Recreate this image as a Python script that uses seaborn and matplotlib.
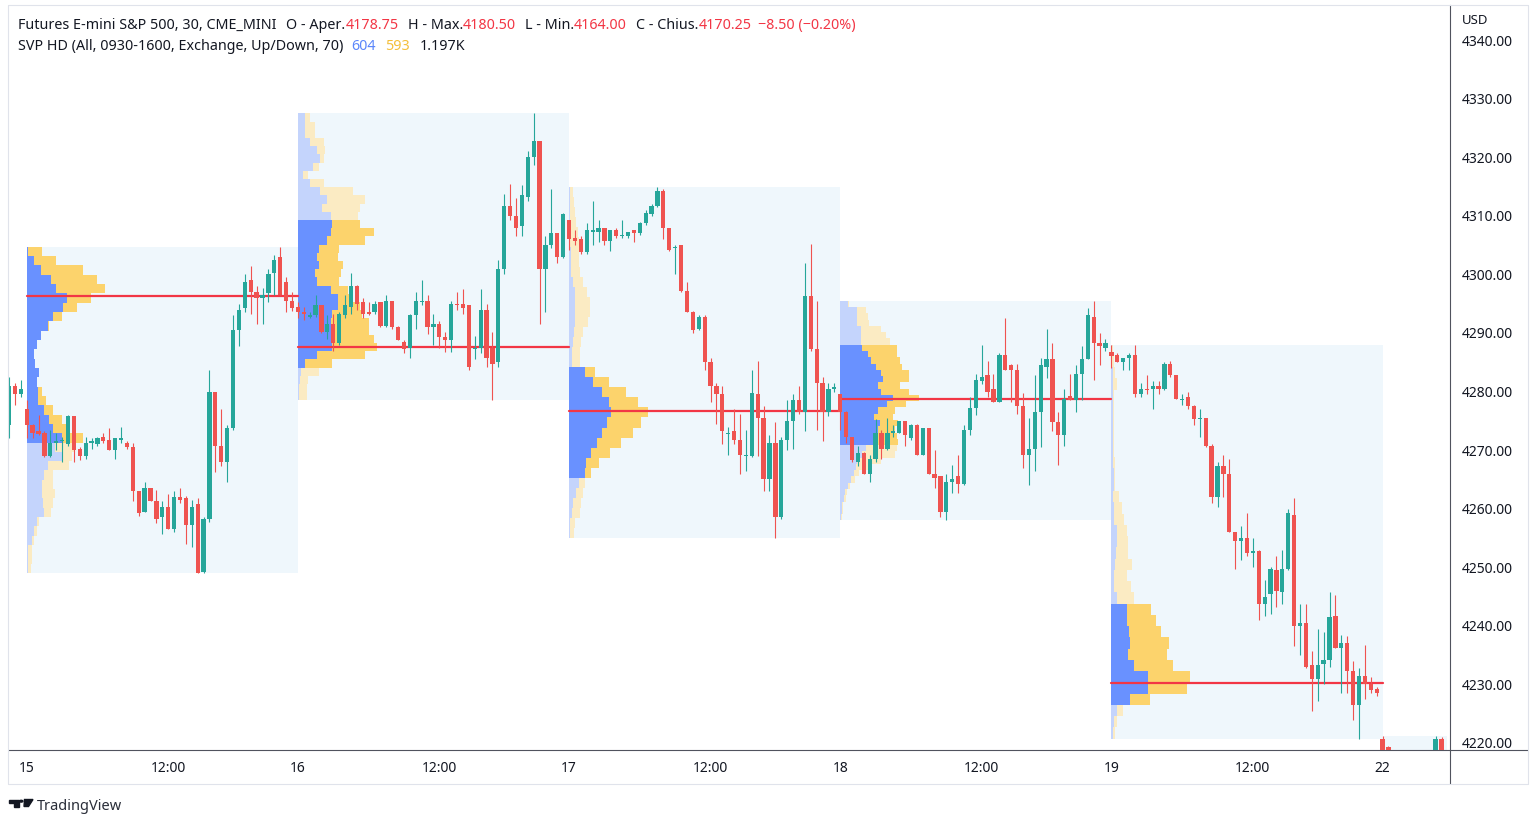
import matplotlib.pyplot as plt
import numpy as np
import pandas as pd
import seaborn as sns
from matplotlib.lines import Line2D
from matplotlib.patches import Rectangle, Polygon, Circle

# 30 minute bars as (open, high, low, close), one list per trading day
bars_pre = [(4274.25, 4282.5, 4272.0, 4281.0), (4281.0, 4281.5, 4277.75, 4279.5),
            (4279.5, 4282.0, 4279.0, 4280.5)]

bars_15 = [
    (4277.0, 4278.5, 4272.0, 4274.25), (4274.25, 4274.5, 4272.0, 4273.0), (4273.25, 4276.0, 4272.5, 4272.75), (4273.0, 4273.25, 4268.75, 4269.0),
    (4269.0, 4273.5, 4268.75, 4271.25), (4271.25, 4273.0, 4270.0, 4271.5), (4271.5, 4272.25, 4268.0, 4271.75), (4271.0, 4276.0, 4270.75, 4275.75),
    (4275.75, 4275.75, 4268.0, 4270.0), (4270.25, 4270.5, 4268.25, 4269.0), (4269.0, 4272.25, 4268.5, 4271.25), (4271.25, 4272.0, 4270.25, 4271.5),
    (4271.0, 4272.25, 4270.75, 4272.0), (4272.25, 4273.0, 4271.25, 4271.5), (4271.75, 4273.75, 4270.0, 4270.0), (4270.0, 4272.0, 4268.5, 4272.0),
    (4271.75, 4274.0, 4271.25, 4272.0), (4271.25, 4271.5, 4270.25, 4270.5), (4270.5, 4271.25, 4261.25, 4263.0), (4263.0, 4263.0, 4258.75, 4259.25),
    (4259.5, 4264.5, 4259.5, 4263.5), (4263.5, 4263.5, 4261.25, 4261.25), (4261.25, 4263.25, 4257.5, 4258.25), (4258.5, 4261.25, 4255.75, 4260.25),
    (4260.25, 4262.5, 4256.5, 4256.5), (4256.5, 4263.0, 4256.0, 4262.0), (4262.0, 4263.5, 4261.0, 4261.5), (4261.75, 4262.25, 4254.0, 4257.25),
    (4257.25, 4261.5, 4253.5, 4260.25), (4260.75, 4261.75, 4249.0, 4249.0), (4249.25, 4258.5, 4249.0, 4258.25), (4258.25, 4283.75, 4257.75, 4280.0),
    (4280.0, 4280.0, 4266.25, 4270.75), (4270.75, 4277.0, 4267.25, 4268.0), (4268.0, 4274.25, 4264.5, 4273.75), (4273.75, 4293.0, 4273.5, 4290.5),
    (4290.5, 4295.0, 4287.75, 4294.0), (4294.25, 4300.0, 4293.5, 4298.75), (4299.0, 4301.5, 4293.25, 4297.0), (4297.0, 4298.0, 4291.5, 4296.0),
    (4296.0, 4297.75, 4291.5, 4296.5), (4296.75, 4301.0, 4295.25, 4300.0), (4300.25, 4303.25, 4296.5, 4302.5), (4303.0, 4304.75, 4296.5, 4296.5),
    (4298.75, 4299.5, 4293.5, 4295.5), (4295.5, 4297.0, 4293.75, 4294.25),
]

bars_16 = [
    (4294.5, 4295.25, 4292.5, 4293.5), (4293.5, 4294.5, 4292.25, 4293.25), (4292.75, 4293.5, 4292.5, 4293.0), (4293.0, 4296.5, 4292.75, 4294.75),
    (4294.75, 4294.75, 4290.0, 4290.25), (4290.25, 4293.0, 4289.0, 4291.5), (4291.5, 4293.25, 4287.0, 4288.25), (4288.25, 4293.5, 4288.0, 4293.25),
    (4293.0, 4296.5, 4292.5, 4294.75), (4294.5, 4300.25, 4293.25, 4298.0), (4298.0, 4298.25, 4294.0, 4295.0), (4295.25, 4296.0, 4292.5, 4293.25),
    (4293.5, 4295.25, 4293.0, 4293.25), (4293.5, 4295.5, 4293.25, 4295.0), (4295.25, 4295.25, 4291.0, 4291.25), (4291.25, 4296.5, 4291.0, 4295.5),
    (4295.5, 4295.5, 4290.75, 4291.0), (4291.0, 4291.25, 4288.75, 4288.75), (4288.5, 4288.75, 4286.5, 4287.25), (4287.5, 4293.25, 4285.75, 4293.0),
    (4293.0, 4297.0, 4290.75, 4295.5), (4295.25, 4299.0, 4294.75, 4295.5), (4295.5, 4296.5, 4289.75, 4291.0), (4291.0, 4293.25, 4288.0, 4291.5),
    (4291.5, 4292.0, 4287.5, 4289.25), (4289.25, 4290.25, 4286.75, 4288.75), (4288.75, 4295.5, 4286.75, 4295.0), (4295.0, 4297.0, 4294.0, 4294.75),
    (4295.0, 4297.5, 4293.25, 4294.25), (4294.75, 4294.75, 4283.75, 4284.25), (4287.25, 4289.5, 4285.5, 4287.5), (4287.5, 4297.5, 4286.5, 4294.0),
    (4294.0, 4295.0, 4284.25, 4285.75), (4287.5, 4290.25, 4278.5, 4284.75), (4285.0, 4302.5, 4284.25, 4301.0), (4301.0, 4313.75, 4300.0, 4311.75),
    (4311.75, 4315.5, 4309.25, 4310.0), (4310.0, 4313.0, 4306.5, 4308.0), (4308.25, 4315.25, 4306.5, 4313.5), (4313.25, 4321.0, 4312.5, 4320.0),
    (4320.0, 4327.5, 4318.75, 4322.75), (4322.75, 4322.75, 4291.5, 4301.0), (4301.0, 4306.5, 4293.5, 4305.0), (4305.0, 4314.5, 4304.5, 4307.0),
    (4307.0, 4307.0, 4302.0, 4303.0), (4303.0, 4310.5, 4302.75, 4310.25),
]

bars_17 = [
    (4309.25, 4309.25, 4304.25, 4306.0), (4306.25, 4307.5, 4305.0, 4305.75), (4306.0, 4306.5, 4303.5, 4303.75), (4303.75, 4308.75, 4303.5, 4307.5),
    (4307.25, 4312.5, 4305.0, 4307.5), (4307.25, 4309.25, 4305.5, 4308.0), (4308.0, 4308.0, 4305.0, 4305.75), (4305.75, 4307.5, 4304.0, 4307.5),
    (4307.5, 4308.0, 4306.25, 4306.5), (4306.5, 4309.25, 4306.25, 4306.75), (4306.5, 4307.25, 4306.25, 4307.25), (4307.5, 4307.5, 4305.5, 4307.0),
    (4307.0, 4309.0, 4306.75, 4308.75), (4308.75, 4311.0, 4308.5, 4310.5), (4310.25, 4312.0, 4310.0, 4311.75), (4311.75, 4315.0, 4311.5, 4314.25),
    (4314.25, 4314.5, 4306.0, 4308.0), (4308.0, 4308.0, 4304.0, 4304.25), (4304.5, 4305.0, 4300.0, 4304.75), (4305.0, 4305.0, 4297.0, 4297.25),
    (4297.25, 4298.75, 4293.5, 4293.5), (4293.5, 4293.75, 4290.0, 4290.5), (4290.75, 4293.0, 4290.5, 4292.75), (4292.75, 4293.0, 4283.75, 4285.0),
    (4285.0, 4285.75, 4278.25, 4281.0), (4281.0, 4281.5, 4274.5, 4279.5), (4279.5, 4281.0, 4271.0, 4273.25), (4272.75, 4274.0, 4269.25, 4273.0),
    (4273.25, 4277.0, 4271.0, 4271.75), (4271.75, 4276.25, 4266.0, 4269.25), (4269.0, 4273.5, 4266.5, 4269.25), (4269.0, 4283.75, 4268.75, 4279.75),
    (4279.5, 4285.25, 4269.0, 4275.5), (4275.5, 4277.5, 4263.0, 4265.0), (4265.0, 4272.5, 4263.0, 4271.25), (4271.25, 4274.75, 4255.0, 4258.5),
    (4258.5, 4272.25, 4258.25, 4271.75), (4271.75, 4278.5, 4270.0, 4275.0), (4275.0, 4279.5, 4270.25, 4278.5), (4278.5, 4281.0, 4276.25, 4276.5),
    (4276.5, 4302.0, 4273.25, 4296.25), (4296.25, 4305.25, 4287.0, 4287.25), (4287.25, 4295.5, 4273.5, 4281.5), (4281.5, 4282.5, 4271.5, 4276.5),
    (4276.5, 4281.5, 4275.75, 4280.5), (4280.5, 4281.5, 4280.0, 4280.75),
]

bars_18 = [
    (4279.5, 4279.5, 4273.5, 4276.5), (4276.5, 4276.75, 4271.25, 4272.25), (4272.25, 4272.25, 4268.0, 4268.25), (4268.0, 4270.75, 4267.25, 4269.5),
    (4269.5, 4269.75, 4266.0, 4266.0), (4266.0, 4269.25, 4264.5, 4268.5), (4268.5, 4275.25, 4268.0, 4273.0), (4273.0, 4273.5, 4268.5, 4270.25),
    (4270.25, 4275.5, 4270.0, 4273.0), (4273.0, 4274.25, 4272.25, 4273.25), (4273.0, 4275.0, 4273.0, 4275.0), (4275.0, 4275.0, 4270.75, 4272.5),
    (4272.0, 4274.5, 4271.75, 4274.25), (4274.25, 4274.5, 4269.25, 4269.25), (4269.25, 4273.75, 4269.25, 4273.75), (4273.75, 4273.75, 4266.0, 4266.0),
    (4266.0, 4270.0, 4263.5, 4265.25), (4265.5, 4265.5, 4258.5, 4259.5), (4259.5, 4266.0, 4258.0, 4264.5), (4264.5, 4267.5, 4262.75, 4265.0),
    (4265.5, 4269.25, 4262.75, 4264.25), (4264.25, 4274.25, 4264.0, 4273.5), (4273.5, 4279.0, 4272.5, 4277.25), (4277.25, 4283.0, 4276.0, 4282.0),
    (4281.75, 4288.0, 4281.25, 4282.5), (4282.75, 4285.25, 4279.0, 4280.0), (4280.5, 4283.0, 4278.25, 4278.25), (4278.25, 4286.5, 4278.25, 4286.25),
    (4286.25, 4292.5, 4283.75, 4283.75), (4284.5, 4284.75, 4278.25, 4283.75), (4283.75, 4284.75, 4276.25, 4277.5), (4277.5, 4279.75, 4267.0, 4269.25),
    (4269.25, 4275.5, 4264.0, 4270.25), (4270.25, 4282.75, 4266.5, 4276.5), (4276.5, 4285.75, 4270.5, 4284.5), (4284.25, 4290.75, 4282.25, 4285.5),
    (4285.5, 4288.25, 4273.25, 4274.75), (4274.75, 4276.5, 4267.5, 4272.5), (4272.5, 4280.5, 4270.75, 4278.75), (4279.25, 4283.0, 4278.5, 4278.5),
    (4278.5, 4284.5, 4276.5, 4283.0), (4283.0, 4287.75, 4278.5, 4285.5), (4285.5, 4294.25, 4285.5, 4293.0), (4292.75, 4295.5, 4282.0, 4288.25),
    (4288.25, 4290.0, 4284.5, 4287.75), (4287.5, 4289.0, 4287.0, 4288.25),
]

bars_19 = [
    (4286.75, 4288.0, 4284.0, 4286.0), (4286.25, 4286.5, 4285.0, 4285.0), (4285.0, 4285.75, 4283.75, 4285.75), (4285.75, 4286.5, 4283.75, 4286.25),
    (4286.25, 4288.0, 4279.0, 4279.5), (4279.5, 4281.5, 4279.0, 4280.5), (4280.5, 4282.75, 4279.5, 4280.25), (4280.5, 4281.75, 4277.0, 4281.0),
    (4281.0, 4281.75, 4279.5, 4280.5), (4280.5, 4285.0, 4280.25, 4284.75), (4284.75, 4285.25, 4282.5, 4282.75), (4282.75, 4282.75, 4278.75, 4278.75),
    (4278.5, 4279.5, 4277.75, 4278.75), (4279.0, 4280.0, 4277.0, 4277.5), (4277.5, 4277.75, 4274.25, 4275.25), (4275.25, 4277.0, 4272.25, 4275.5),
    (4275.5, 4275.5, 4270.5, 4270.75), (4270.75, 4271.0, 4261.0, 4262.0), (4262.0, 4268.0, 4260.25, 4267.25), (4267.25, 4269.25, 4262.0, 4266.0),
    (4266.0, 4268.5, 4256.0, 4256.0), (4256.0, 4256.0, 4249.75, 4254.5), (4254.5, 4257.0, 4251.25, 4255.0), (4255.0, 4259.25, 4252.0, 4252.5),
    (4252.5, 4255.0, 4250.0, 4252.75), (4252.75, 4253.0, 4241.0, 4243.75), (4243.75, 4247.75, 4241.75, 4245.0), (4245.5, 4250.0, 4242.0, 4249.75),
    (4249.5, 4252.0, 4243.25, 4246.0), (4245.75, 4253.0, 4243.75, 4249.75), (4249.75, 4260.0, 4249.5, 4259.25), (4259.0, 4261.75, 4236.5, 4240.0),
    (4240.0, 4243.75, 4235.0, 4240.5), (4240.5, 4243.75, 4232.75, 4233.0), (4233.25, 4235.75, 4225.5, 4231.0), (4231.0, 4239.5, 4227.25, 4233.25),
    (4233.5, 4239.0, 4230.0, 4234.25), (4234.25, 4245.75, 4233.0, 4241.5), (4241.75, 4245.25, 4236.25, 4236.25), (4236.25, 4238.5, 4228.5, 4237.0),
    (4237.0, 4238.25, 4228.5, 4232.25), (4232.25, 4234.0, 4224.0, 4226.5), (4226.5, 4232.75, 4220.75, 4231.5), (4231.5, 4236.75, 4227.5, 4230.0),
    (4230.0, 4231.25, 4228.5, 4229.0), (4229.25, 4229.5, 4228.0, 4228.5),
]

bars_22 = [
    (4220.75, 4221.25, 4214.5, 4217.0), (4219.25, 4219.5, 4214.5, 4215.5), (4215.5, 4217.0, 4212.75, 4213.5), (4213.5, 4215.75, 4211.5, 4215.0),
    (4215.0, 4216.5, 4212.5, 4213.0), (4213.0, 4215.0, 4210.75, 4214.25), (4214.25, 4217.25, 4213.0, 4216.5), (4216.5, 4218.25, 4214.75, 4215.25),
    (4215.25, 4218.5, 4214.0, 4217.75), (4217.0, 4221.25, 4216.5, 4220.75), (4220.75, 4221.0, 4218.0, 4218.25),
]

day_names = ['15', '16', '17', '18', '19', '22']

# session volume profiles (up / down volume per row, top row first)
up_15 = [5, 20, 40, 70, 85, 115, 105, 75, 60, 42, 30, 20, 25, 35, 30, 32, 32, 50, 65, 75,
         100, 80, 100, 60, 50, 45, 45, 48, 50, 30, 20, 15, 5, 3, 3]
dn_15 = [40, 65, 120, 130, 140, 70, 40, 25, 5, 0, 0, 0, 0, 0, 0, 13, 23, 25, 35, 40,
         60, 55, 30, 60, 25, 30, 35, 27, 20, 5, 8, 5, 10, 12, 10]
up_16 = [20, 20, 20, 35, 55, 65, 45, 15, 35, 65, 85, 70, 95, 100, 95, 85, 60, 55, 62, 50,
         55, 95, 115, 115, 100, 95, 97, 100, 100, 55, 20, 10, 5, 3, 3]
dn_16 = [15, 30, 30, 40, 25, 10, 15, 15, 40, 95, 110, 110, 80, 80, 125, 110, 60, 60, 70, 75,
         65, 50, 45, 65, 85, 110, 110, 120, 128, 140, 80, 50, 25, 22, 22]
up_17 = [2, 2, 2, 3, 3, 3, 5, 5, 5, 10, 16, 16, 16, 16, 15, 12, 8, 8, 45, 70,
         95, 115, 123, 110, 95, 80, 65, 50, 45, 30, 20, 10, 8, 3, 3]
dn_17 = [10, 12, 15, 18, 22, 25, 25, 25, 28, 30, 35, 45, 45, 40, 25, 22, 25, 25, 30, 45,
         70, 85, 105, 100, 90, 70, 55, 38, 18, 15, 20, 25, 25, 15, 12]
up_18 = [23, 50, 50, 50, 60, 60, 60, 65, 80, 90, 105, 120, 125, 110, 120, 155, 138, 110, 100, 115,
         110, 105, 95, 75, 65, 50, 45, 40, 32, 22, 14, 12, 5, 4, 3]
dn_18 = [2, 25, 30, 35, 60, 75, 85, 100, 85, 85, 75, 80, 75, 65, 80, 75, 55, 50, 55, 55,
         50, 60, 75, 90, 95, 70, 40, 15, 10, 8, 5, 4, 3, 3, 3]
up_19 = [2, 2, 3, 3, 3, 3, 3, 3, 3, 3, 5, 6, 6, 5, 6, 8, 14, 14, 12, 10,
         8, 8, 15, 42, 42, 47, 50, 45, 60, 100, 100, 50, 15, 8, 5]
dn_19 = [3, 5, 8, 12, 5, 4, 4, 4, 4, 4, 4, 3, 4, 15, 22, 25, 27, 30, 33, 45,
         35, 45, 45, 65, 78, 88, 105, 105, 105, 112, 105, 55, 15, 8, 5]

value_areas = [(4270.9, 4305.0), (4284.2, 4308.7), (4264.6, 4284.0), (4270.6, 4287.8), (4227.3, 4243.7)]
poc_prices = [4296.3, 4287.6, 4276.7, 4278.7, 4230.2]

price_ticks = [4220, 4230, 4240, 4250, 4260, 4270, 4280, 4290, 4300, 4310, 4320, 4330, 4340]

TXT = '#131722'
UP = '#26a69a'
DOWN = '#ef5350'
RED = '#f23645'

sns.set_theme(style='white')
plt.rcParams['font.family'] = ['Noto Sans', 'DejaVu Sans']

W, H = 1536, 824


def fx(px):
    return px / W


def fy(py):
    return 1 - py / H


# build one table of bars with a running bar index (0 = first bar of the 15th)
rows = []
k = -len(bars_pre)
for o, h, l, c in bars_pre:
    rows.append((k, o, h, l, c))
    k += 1
starts = []
for day in [bars_15, bars_16, bars_17, bars_18, bars_19, bars_22]:
    starts.append(k)
    for o, h, l, c in day:
        rows.append((k, o, h, l, c))
        k += 1
ends = starts[1:] + [k]
df = pd.DataFrame(rows, columns=['k', 'open', 'high', 'low', 'close'])

fig = plt.figure(figsize=(W / 100, H / 100), dpi=100)
ax = fig.add_axes([fx(8.5), fy(750), fx(1450) - fx(8.5), fy(5) - fy(750)])
ax.set_facecolor('white')

# session boxes
for s in range(len(starts)):
    seg = df[(df.k >= starts[s]) & (df.k < ends[s])]
    lo, hi = seg.low.min(), seg.high.max()
    ax.add_patch(Rectangle((starts[s], lo), ends[s] - starts[s], hi - lo,
                           facecolor='#eff7fc', edgecolor='none', zorder=0))

# volume profiles
profiles = [(up_15, dn_15), (up_16, dn_16), (up_17, dn_17), (up_18, dn_18), (up_19, dn_19)]
poc_rows = []
for s, (pu, pdn) in enumerate(profiles):
    seg = df[(df.k >= starts[s]) & (df.k < ends[s])]
    lo, hi = seg.low.min(), seg.high.max()
    pu, pdn = np.array(pu, float), np.array(pdn, float)
    n = len(pu)
    step = (hi - lo) / n
    centers = hi - step * (np.arange(n) + 0.5)
    scale = 0.29 * (ends[s] - starts[s]) / (pu + pdn).max()
    va_lo, va_hi = value_areas[s]
    inside = (centers >= va_lo) & (centers <= va_hi)
    ax.barh(centers, pu * scale, height=step, left=starts[s], linewidth=0,
            color=np.where(inside, '#6991ff', '#c4d4fc'), zorder=1)
    ax.barh(centers, pdn * scale, height=step, left=starts[s] + pu * scale, linewidth=0,
            color=np.where(inside, '#fcd36c', '#fbebc3'), zorder=1)
    poc_rows += [(s, starts[s], poc_prices[s]), (s, ends[s], poc_prices[s])]

poc_df = pd.DataFrame(poc_rows, columns=['session', 'k', 'price'])
sns.lineplot(data=poc_df, x='k', y='price', units='session', estimator=None,
             color=RED, linewidth=1.6, legend=False, ax=ax, zorder=3)

# candles
rising = df.close >= df.open
colors = np.where(rising, UP, DOWN)
ax.vlines(df.k, df.low, df.high, colors=colors, linewidth=0.8, zorder=4)
body = (df.close - df.open).abs().clip(lower=0.2)
ax.bar(df.k, body, bottom=np.minimum(df.open, df.close), width=0.72,
       color=colors, linewidth=0, zorder=5)

ax.set_xlim(-3.09, 241.44)
ax.set_ylim(4218.8, 4346.0)
ax.set_xlabel('')
ax.set_ylabel('')

ax.yaxis.tick_right()
ax.set_yticks(price_ticks)
ax.set_yticklabels([f'{v:.2f}' for v in price_ticks])
ax.tick_params(axis='y', length=0, pad=8.6, labelsize=10, labelcolor=TXT)

xt, xl = [], []
for s, name in enumerate(day_names):
    xt.append(starts[s])
    xl.append(name)
    if s < len(day_names) - 1:
        xt.append(starts[s] + 24)
        xl.append('12:00')
ax.set_xticks(xt)
ax.set_xticklabels(xl)
ax.tick_params(axis='x', length=0, pad=8, labelsize=10, labelcolor=TXT)
for lbl in ax.get_xticklabels():
    if ':' not in lbl.get_text():
        lbl.set_fontweight('bold')

for side in ['top', 'left']:
    ax.spines[side].set_visible(False)
for side in ['right', 'bottom']:
    ax.spines[side].set_color('#50535e')
    ax.spines[side].set_linewidth(0.8)


def fig_line(x0, y0, x1, y1, color, lw=0.8):
    fig.add_artist(Line2D([fx(x0), fx(x1)], [fy(y0), fy(y1)], color=color,
                          linewidth=lw, transform=fig.transFigure))


fig_line(1450, 750, 1528, 750, '#50535e')
fig_line(1450, 750, 1450, 784, '#50535e')
fig_line(8, 784, 1528, 784, '#e0e3eb')
fig_line(8, 5, 8, 784, '#e0e3eb')
fig_line(1528, 5, 1528, 784, '#e0e3eb')
fig_line(8, 5, 1528, 5, '#e0e3eb')

fig.text(fx(1462), fy(21), 'USD', color=TXT, fontsize=9.5, va='center', ha='left')

# legend lines at the top: (gap before piece in px, text, colour)
renderer = fig.canvas.get_renderer()


def text_run(x, y, pieces, size=10.3):
    for gap, s, col in pieces:
        x += gap
        t = fig.text(fx(x), fy(y), s, color=col, fontsize=size, va='center', ha='left')
        x += t.get_window_extent(renderer).width


text_run(18, 25.5, [(0, 'Futures E-mini S&P 500, 30, CME_MINI', TXT),
                    (10, 'O - Aper.', TXT), (0, '4178.75', RED),
                    (9, 'H - Max.', TXT), (0, '4180.50', RED),
                    (9, 'L - Min.', TXT), (0, '4164.00', RED),
                    (9, 'C - Chius.', TXT), (0, '4170.25', RED),
                    (6, '\u22128.50 (\u22120.20%)', RED)])
text_run(18, 46.5, [(0, 'SVP HD (All, 0930-1600, Exchange, Up/Down, 70)', TXT),
                    (8, '604', '#5b86fb'), (9, '593', '#f4bf3a'), (10, '1.197K', TXT)])

# TradingView logo
logo = '#131722'
fig.add_artist(Polygon([(fx(8.5), fy(799.5)), (fx(18.5), fy(799.5)), (fx(18.5), fy(806.5)),
                        (fx(13.5), fy(806.5)), (fx(13.5), fy(802.5)), (fx(8.5), fy(802.5))],
                       closed=True, color=logo, transform=fig.transFigure))
fig.add_artist(Circle((fx(21.2), fy(801.2)), 1.7 / W, color=logo, transform=fig.transFigure))
fig.add_artist(Polygon([(fx(24.5), fy(799.5)), (fx(33), fy(799.5)), (fx(28.5), fy(806.5)),
                        (fx(24), fy(806.5))],
                       closed=True, color=logo, transform=fig.transFigure))
fig.text(fx(37), fy(806), 'TradingView', color='#2a2e39', fontsize=10.5, va='center', ha='left')

fig.savefig('out.png', dpi=100, facecolor='white')
